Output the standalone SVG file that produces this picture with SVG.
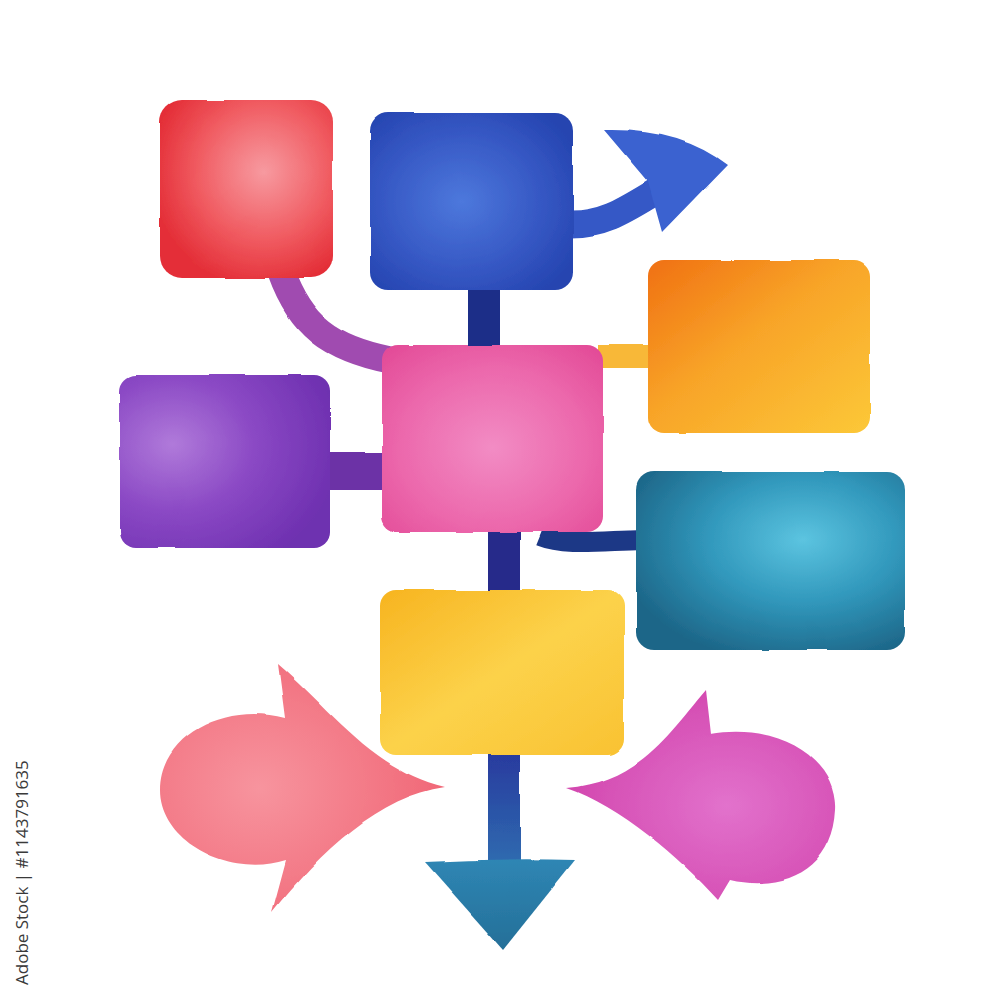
<svg xmlns="http://www.w3.org/2000/svg" width="1000" height="1000" viewBox="0 0 1000 1000">
<defs>
<style>
.wm{font-family:"Open Sans","Noto Sans",sans-serif;font-size:17px;fill:#3a3a3a}
</style>
<filter id="wc" x="-5%" y="-5%" width="110%" height="110%">
<feTurbulence type="fractalNoise" baseFrequency="0.02" numOctaves="2" seed="4" result="n"/>
<feDisplacementMap in="SourceGraphic" in2="n" scale="3" xChannelSelector="R" yChannelSelector="G"/>
</filter>
<radialGradient id="gRed" cx="0.6" cy="0.4" r="0.65"><stop offset="0" stop-color="#f79aa0"/><stop offset="0.6" stop-color="#f05a60"/><stop offset="1" stop-color="#e42f38"/></radialGradient>
<radialGradient id="gBlue" cx="0.45" cy="0.5" r="0.65"><stop offset="0" stop-color="#4d78dc"/><stop offset="0.6" stop-color="#3658c4"/><stop offset="1" stop-color="#2544b0"/></radialGradient>
<radialGradient id="gPink" cx="0.5" cy="0.55" r="0.7"><stop offset="0" stop-color="#f28cc4"/><stop offset="0.6" stop-color="#ec68ac"/><stop offset="1" stop-color="#e34c98"/></radialGradient>
<linearGradient id="gOrange" x1="0" y1="0" x2="1" y2="1"><stop offset="0" stop-color="#f07012"/><stop offset="0.45" stop-color="#f8a428"/><stop offset="1" stop-color="#fcc838"/></linearGradient>
<radialGradient id="gPurple" cx="0.25" cy="0.4" r="0.8"><stop offset="0" stop-color="#b07ada"/><stop offset="0.5" stop-color="#8a48c4"/><stop offset="1" stop-color="#6e30b0"/></radialGradient>
<radialGradient id="gTeal" cx="0.62" cy="0.38" r="0.7"><stop offset="0" stop-color="#5cc4e0"/><stop offset="0.5" stop-color="#3198bc"/><stop offset="1" stop-color="#1d6688"/></radialGradient>
<linearGradient id="gYellow" x1="0" y1="0" x2="1" y2="1"><stop offset="0" stop-color="#f7b420"/><stop offset="0.5" stop-color="#fcd24a"/><stop offset="1" stop-color="#f9c232"/></linearGradient>
<radialGradient id="gCoral" cx="0.35" cy="0.5" r="0.7"><stop offset="0" stop-color="#f7949e"/><stop offset="1" stop-color="#f06474"/></radialGradient>
<radialGradient id="gMag" cx="0.6" cy="0.55" r="0.7"><stop offset="0" stop-color="#e272cc"/><stop offset="1" stop-color="#d040aa"/></radialGradient>
<linearGradient id="gStem" x1="0" y1="0" x2="0" y2="1"><stop offset="0" stop-color="#283a9e"/><stop offset="1" stop-color="#2f6cb0"/></linearGradient>
<linearGradient id="gHead" x1="0" y1="0" x2="0" y2="1"><stop offset="0" stop-color="#2f86b4"/><stop offset="1" stop-color="#246f98"/></linearGradient>
</defs>
<rect width="1000" height="1000" fill="#ffffff"/>

<g id="connectors" filter="url(#wc)">
<path d="M281 272 C 300 325, 330 348, 390 360" fill="none" stroke="#a04cb0" stroke-width="27"/>
<rect x="468" y="286" width="32" height="64" fill="#1f2d88"/>
<rect x="598" y="345" width="54" height="23" fill="#f8b838"/>
<rect x="326" y="452" width="60" height="38" fill="#6c30a6"/>
<path d="M540 536 C 565 546, 600 541, 642 540" fill="none" stroke="#1e3886" stroke-width="20"/>
<rect x="488" y="528" width="32" height="66" fill="#28298a"/>
<rect x="488" y="752" width="32" height="114" fill="url(#gStem)"/>
<path d="M571 224 C 605 224, 625 210, 655 192" fill="none" stroke="#3458c6" stroke-width="27"/>
</g>

<g id="node-red" filter="url(#wc)"><rect x="160" y="100" width="173" height="178" rx="22" fill="url(#gRed)"/></g>
<g id="node-blue" filter="url(#wc)"><rect x="370" y="113" width="203" height="177" rx="18" fill="url(#gBlue)"/></g>
<g id="node-blue-arrow" filter="url(#wc)"><path d="M604 130 Q 680 128 727 165 L 662 232 L 648 182 Z" fill="#3a62d0"/></g>
<g id="node-orange" filter="url(#wc)"><rect x="648" y="260" width="222" height="173" rx="16" fill="url(#gOrange)"/></g>
<g id="node-pink" filter="url(#wc)"><rect x="382" y="345" width="221" height="187" rx="16" fill="url(#gPink)"/></g>
<g id="node-purple" filter="url(#wc)"><rect x="120" y="375" width="210" height="173" rx="16" fill="url(#gPurple)"/></g>
<g id="node-teal" filter="url(#wc)"><rect x="636" y="472" width="269" height="178" rx="18" fill="url(#gTeal)"/></g>
<g id="node-yellow" filter="url(#wc)"><rect x="380" y="590" width="244" height="165" rx="16" fill="url(#gYellow)"/></g>
<g id="node-down-arrow" filter="url(#wc)"><path d="M425 862 Q 500 858 575 860 L 503 950 Z" fill="url(#gHead)"/></g>
<g id="node-coral" filter="url(#wc)"><path d="M278 664 C 330 708, 372 770, 445 787 C 380 796, 322 850, 272 912 L 286 860 C 230 878, 160 842, 160 790 C 160 735, 225 702, 285 718 Z" fill="url(#gCoral)"/></g>
<g id="node-magenta" filter="url(#wc)"><path d="M567 788 C 640 782, 670 732, 706 690 L 711 734 C 780 722, 838 760, 835 810 C 832 870, 782 892, 730 880 L 718 900 C 680 858, 620 806, 567 788 Z" fill="url(#gMag)"/></g>

<text class="wm" transform="translate(28,985) rotate(-90)">Adobe Stock | #1143791635</text>
</svg>
